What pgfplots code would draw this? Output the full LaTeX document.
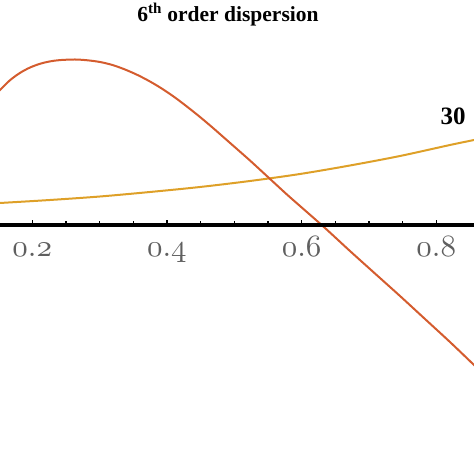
\documentclass[border=0pt]{standalone}
\usepackage{pgfplots}
\pgfplotsset{compat=1.18}
\usepackage{fontspec}
\setmainfont{Liberation Serif}
\DeclareFontShape{OML}{cmm}{m}{it}{<->cmmi10}{}
\newcommand{\osf}[1]{\mbox{\fontencoding{OML}\fontfamily{cmm}\fontseries{m}\fontshape{it}\fontsize{31bp}{36bp}\selectfont #1}}
\definecolor{orng}{RGB}{212,92,46}
\definecolor{yllw}{RGB}{222,160,40}
\definecolor{tickgray}{RGB}{95,95,95}
\begin{document}
\begin{tikzpicture}
\useasboundingbox (0,0) rectangle (474bp,474bp);
\begin{axis}[
  at={(0,0)}, anchor=south west,
  scale only axis, width=474bp, height=474bp,
  xmin=0.1521, xmax=0.8560, ymin=-249, ymax=225,
  axis x line*=middle, axis y line=none,
  x axis line style={line width=4bp, black},
  xtick={0.2,0.4,0.6,0.8},
  xticklabels={\osf{0:2},\osf{0:4},\osf{0:6},\osf{0:8}},
  minor x tick num=3,
  tick align=inside,
  major tick length=5bp, minor tick length=4bp,
  every tick/.style={black, line width=1.2bp},
  xticklabel style={anchor=base, yshift=-32bp, text=tickgray},
  axis on top=true,
  clip=true,
]
\addplot[yllw, line width=2bp, smooth] coordinates {
(0.145,21.7) (0.1521,22) (0.2263,25) (0.3006,28.5) (0.3748,33) (0.4491,38)
(0.5233,44) (0.5976,51) (0.6718,59.5) (0.7461,69) (0.8203,80) (0.8560,85) (0.862,86)
};
\addplot[orng, line width=2bp, smooth] coordinates {
(0.1446,129.5) (0.1521,135) (0.1669,144.75) (0.1818,152.1) (0.1966,157.45)
(0.2115,161.2) (0.2263,163.6) (0.2412,164.9) (0.2634,165.5) (0.2820,164.7)
(0.3006,163) (0.3191,160) (0.3377,155.5) (0.3563,150) (0.3748,143.5)
(0.3934,136) (0.4119,127.5) (0.4305,118) (0.4491,108) (0.4676,97.5)
(0.4862,86.5) (0.5048,75.5) (0.5233,64.5) (0.5419,53) (0.5604,41.5)
(0.5790,30) (0.5976,19) (0.6347,-3) (0.6718,-26) (0.7089,-48.5)
(0.7461,-71) (0.7832,-94) (0.8203,-117) (0.8560,-140) (0.8649,-146)
};
\node[anchor=north, inner sep=0pt, font=\bfseries\fontsize{21.5bp}{25bp}\selectfont]
  at (axis description cs:0.481,0.993) {6\textsuperscript{th} order dispersion};
\node[inner sep=0pt, font=\bfseries\fontsize{25bp}{28bp}\selectfont]
  at (axis description cs:0.9557,0.7553) {30};
\end{axis}
\end{tikzpicture}
\end{document}
